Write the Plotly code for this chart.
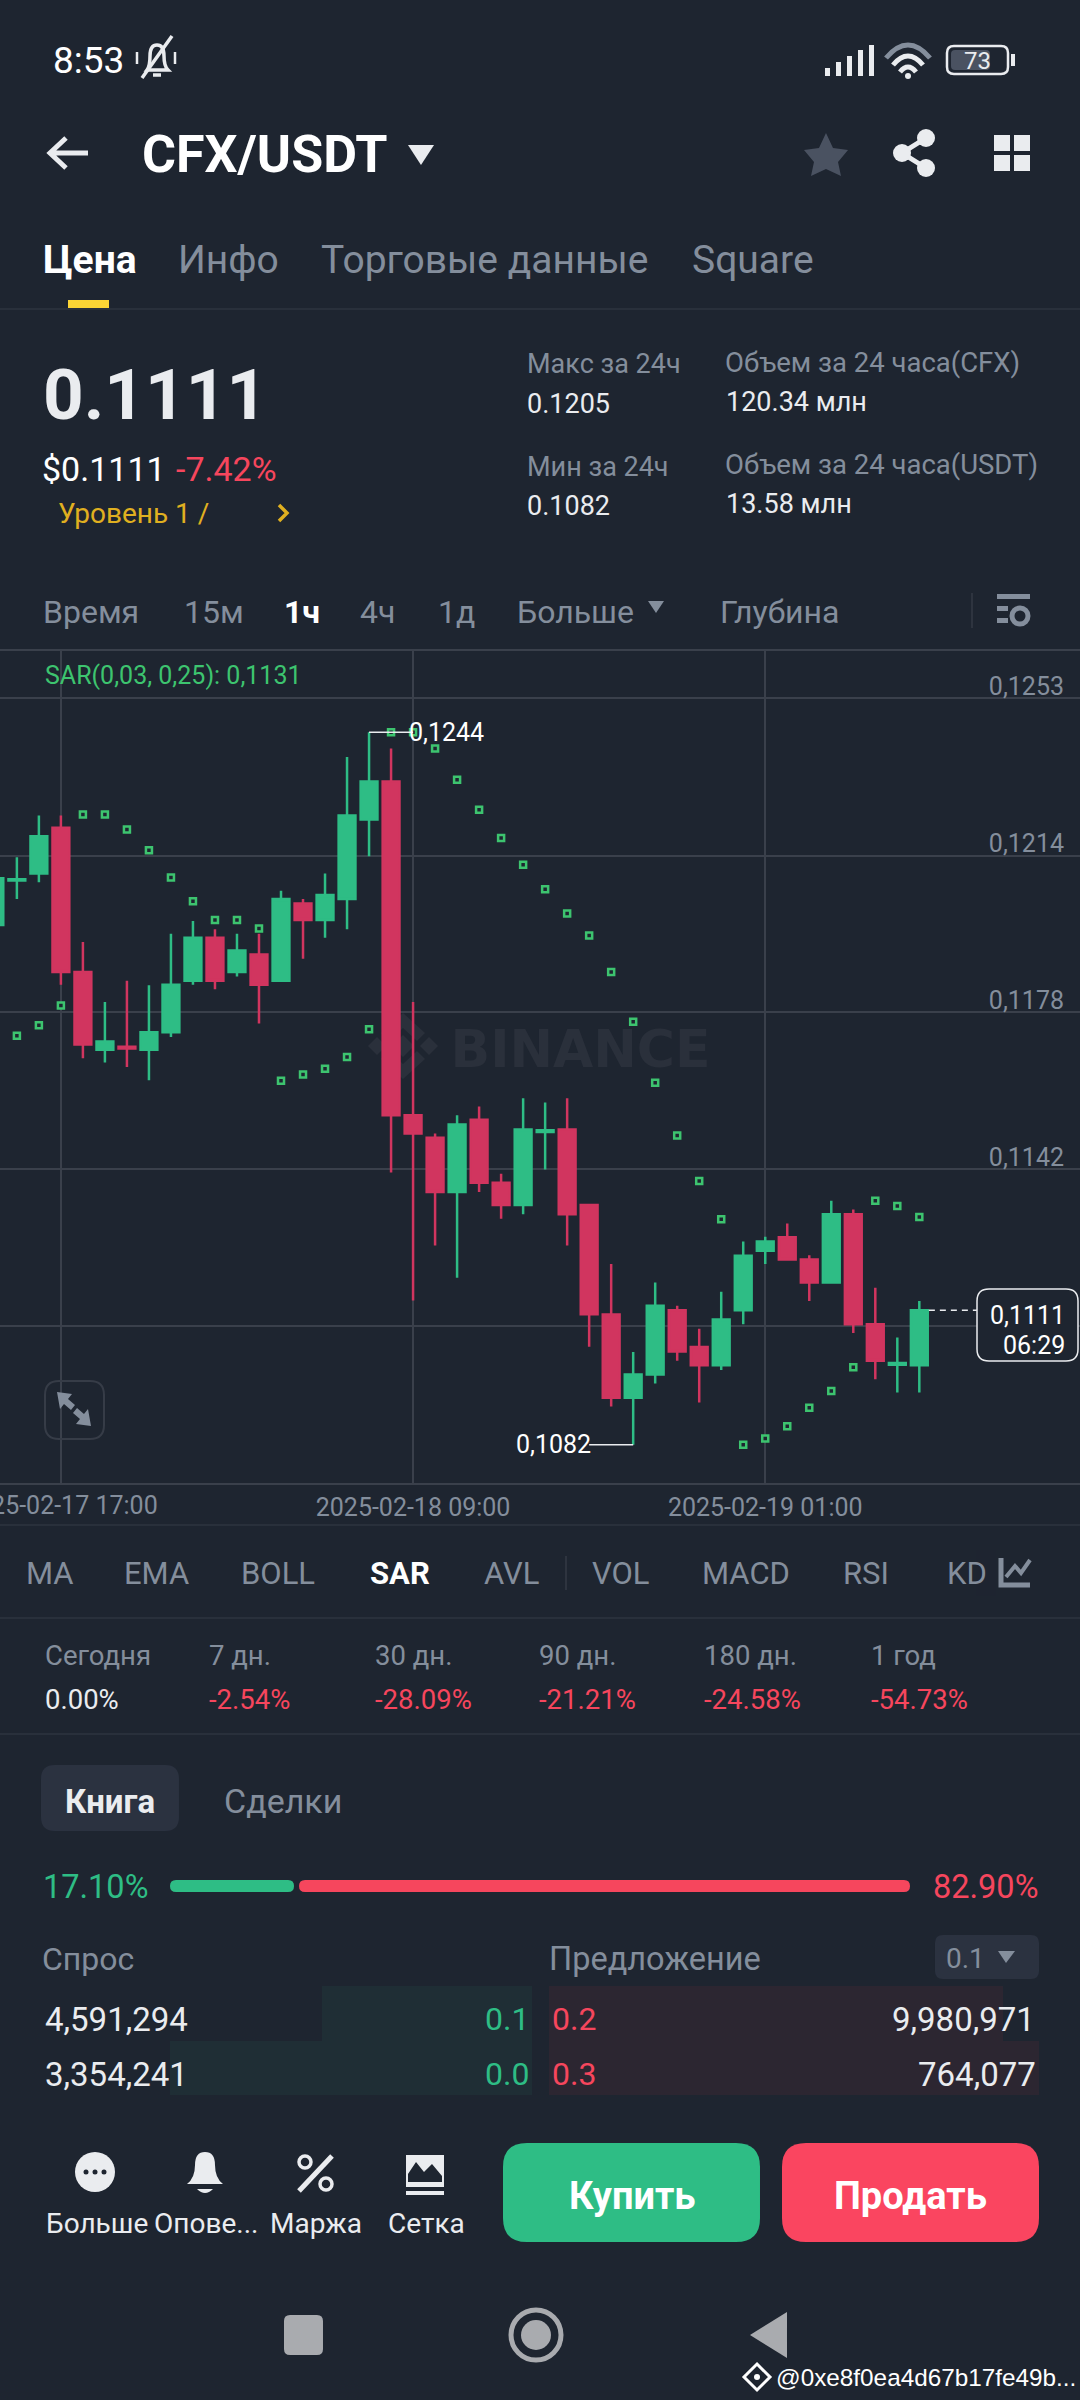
import re
import plotly.graph_objects as go

W, H = 1080, 2400
BG = '#1E2530'
GREY = '#848E9C'
WHITE = '#EAECEF'
GREEN = '#2EBD85'
RED = '#F6465D'
CANDLE_RED = '#D1355F'
SAR_GREEN = '#3DC46F'
GRID = '#3A404B'
DIVIDER = '#2E343F'
WATERMARK = '#2A303B'
FONT = 'Roboto'

# ------------------------------
# chart values
times = ['2025-02-17 14:00', '2025-02-17 15:00', '2025-02-17 16:00', '2025-02-17 17:00', '2025-02-17 18:00',
         '2025-02-17 19:00', '2025-02-17 20:00', '2025-02-17 21:00', '2025-02-17 22:00', '2025-02-17 23:00',
         '2025-02-18 00:00', '2025-02-18 01:00', '2025-02-18 02:00', '2025-02-18 03:00', '2025-02-18 04:00',
         '2025-02-18 05:00', '2025-02-18 06:00', '2025-02-18 07:00', '2025-02-18 08:00', '2025-02-18 09:00',
         '2025-02-18 10:00', '2025-02-18 11:00', '2025-02-18 12:00', '2025-02-18 13:00', '2025-02-18 14:00',
         '2025-02-18 15:00', '2025-02-18 16:00', '2025-02-18 17:00', '2025-02-18 18:00', '2025-02-18 19:00',
         '2025-02-18 20:00', '2025-02-18 21:00', '2025-02-18 22:00', '2025-02-18 23:00', '2025-02-19 00:00',
         '2025-02-19 01:00', '2025-02-19 02:00', '2025-02-19 03:00', '2025-02-19 04:00', '2025-02-19 05:00',
         '2025-02-19 06:00', '2025-02-19 07:00', '2025-02-19 08:00']
opens = [0.12002, 0.12103, 0.12119, 0.12223, 0.11895, 0.11718, 0.11725, 0.11718, 0.11758, 0.11875, 0.11973,
         0.11895, 0.11935, 0.11875, 0.12051, 0.12013, 0.12061, 0.12242, 0.12328, 0.11569, 0.11518, 0.11395,
         0.11559, 0.11416, 0.11365, 0.11531, 0.11537, 0.11365, 0.11116, 0.10927, 0.10980, 0.11126, 0.11042,
         0.11001, 0.11126, 0.11261, 0.11292, 0.11241, 0.11189, 0.11344, 0.11094, 0.11002, 0.11001]
highs = [0.12150, 0.12156, 0.12251, 0.12251, 0.11963, 0.11827, 0.11875, 0.11865, 0.11982, 0.12011, 0.11992,
         0.11982, 0.11982, 0.12080, 0.12061, 0.12119, 0.12384, 0.12440, 0.12403, 0.11827, 0.11528, 0.11569,
         0.11589, 0.11436, 0.11608, 0.11598, 0.11608, 0.11365, 0.11231, 0.11031, 0.11189, 0.11136, 0.11084,
         0.11168, 0.11282, 0.11293, 0.11323, 0.11251, 0.11375, 0.11355, 0.11177, 0.11064, 0.11147]
lows = [0.11970, 0.12061, 0.12099, 0.11866, 0.11699, 0.11689, 0.11679, 0.11649, 0.11747, 0.11866, 0.11856,
        0.11885, 0.11778, 0.11875, 0.11925, 0.11973, 0.11992, 0.12158, 0.11439, 0.11148, 0.11273, 0.11200,
        0.11395, 0.11334, 0.11344, 0.11446, 0.11273, 0.11043, 0.10907, 0.10820, 0.10959, 0.11011, 0.10916,
        0.10990, 0.11094, 0.11231, 0.11241, 0.11147, 0.11189, 0.11074, 0.10969, 0.10939, 0.10939]
closes = [0.12108, 0.12106, 0.12204, 0.11895, 0.11730, 0.11737, 0.11721, 0.11758, 0.11866, 0.11973, 0.11875,
          0.11944, 0.11866, 0.12061, 0.12013, 0.12070, 0.12251, 0.12328, 0.11569, 0.11528, 0.11395, 0.11548,
          0.11416, 0.11365, 0.11537, 0.11535, 0.11344, 0.11117, 0.10927, 0.10980, 0.11136, 0.11032, 0.11001,
          0.11105, 0.11250, 0.11282, 0.11241, 0.11189, 0.11344, 0.11094, 0.11011, 0.11006, 0.11126]
sar = [None, 0.11750, 0.11774, 0.11819, 0.12253, 0.12253, 0.12219, 0.12172, 0.12110, 0.12056, 0.12013,
       0.12013, 0.11994, 0.11648, 0.11662, 0.11675, 0.11702, 0.11765, 0.12440, 0.12440, 0.12403, 0.12332,
       0.12264, 0.12200, 0.12139, 0.12083, 0.12028, 0.11978, 0.11895, 0.11782, 0.11643, 0.11523, 0.11420,
       0.11333, 0.10820, 0.10834, 0.10862, 0.10904, 0.10942, 0.10996, 0.11375, 0.11363, 0.11338]

grid_prices = [0.12517, 0.12159, 0.11803, 0.11446, 0.11089]
price_labels = ['0,1253', '0,1214', '0,1178', '0,1142', '']
date_ticks = ['2025-02-17 17:00', '2025-02-18 09:00', '2025-02-19 01:00']
X_RANGE = ['2025-02-17 14:14', '2025-02-19 15:18']
Y_RANGE = [0.10733, 0.12625]
LAST_PRICE = '0,1111'
buy_pct, sell_pct = 17.10, 82.90

periods = ['Сегодня', '7 дн.', '30 дн.', '90 дн.', '180 дн.', '1 год']
period_changes = ['0.00%', '-2.54%', '-28.09%', '-21.21%', '-24.58%', '-54.73%']
# ------------------------------

shapes = []
annotations = []


def fx(x):
    return x / W


def fy(y):
    return 1 - y / H


def text(x, y, s, size=28, color=WHITE, anchor='left', bold=False, font=FONT):
    if bold:
        s = '<b>' + s + '</b>'
    annotations.append(dict(x=fx(x), y=fy(y), xref='paper', yref='paper', text=s, showarrow=False,
                            xanchor=anchor, yanchor='middle', borderpad=0, borderwidth=0,
                            font=dict(size=size, color=color, family=font)))


def path_str(cmds):
    # absolute M/L/Q/C/Z commands in page pixels -> paper coords
    out = []
    is_x = True
    for tok in re.findall(r'[MLQCZ]|-?[\d.]+', cmds):
        if tok in 'MLQCZ':
            out.append(tok)
            is_x = True
        else:
            out.append(f'{fx(float(tok)):.5f}' if is_x else f'{fy(float(tok)):.5f}')
            is_x = not is_x
    return ' '.join(out)


def path(cmds, fill=None, line=None, width=0, layer='above'):
    shapes.append(dict(type='path', xref='paper', yref='paper', path=path_str(cmds), fillcolor=fill or 'rgba(0,0,0,0)',
                       line=dict(color=line or 'rgba(0,0,0,0)', width=width), layer=layer))


def rect(x0, y0, x1, y1, fill, layer='above'):
    shapes.append(dict(type='rect', xref='paper', yref='paper', x0=fx(x0), x1=fx(x1), y0=fy(y0), y1=fy(y1),
                       fillcolor=fill, line=dict(width=0), layer=layer))


def rrect(x0, y0, x1, y1, r, fill=None, line=None, width=0, layer='above'):
    path(f'M{x0 + r} {y0} L{x1 - r} {y0} Q{x1} {y0} {x1} {y0 + r} L{x1} {y1 - r} Q{x1} {y1} {x1 - r} {y1} '
         f'L{x0 + r} {y1} Q{x0} {y1} {x0} {y1 - r} L{x0} {y0 + r} Q{x0} {y0} {x0 + r} {y0} Z',
         fill, line, width, layer)


def circle(cx, cy, r, fill=None, line=None, width=0):
    shapes.append(dict(type='circle', xref='paper', yref='paper', x0=fx(cx - r), x1=fx(cx + r), y0=fy(cy - r),
                       y1=fy(cy + r), fillcolor=fill or 'rgba(0,0,0,0)',
                       line=dict(color=line or 'rgba(0,0,0,0)', width=width)))


def hline(y, x0=0, x1=W, color=DIVIDER, width=1.5):
    path(f'M{x0} {y} L{x1} {y}', line=color, width=width)


fig = go.Figure()

fig.add_trace(go.Candlestick(
    x=times, open=opens, high=highs, low=lows, close=closes,
    increasing=dict(line=dict(color=GREEN, width=2.5), fillcolor=GREEN),
    decreasing=dict(line=dict(color=CANDLE_RED, width=2.5), fillcolor=CANDLE_RED),
    whiskerwidth=0, hoverinfo='skip', showlegend=False))

fig.add_trace(go.Scatter(
    x=times, y=sar, mode='markers', hoverinfo='skip', showlegend=False,
    marker=dict(symbol='square', size=6, color=BG, line=dict(color=SAR_GREEN, width=2.5))))

# status bar
text(53, 61, '8:53', 37, '#FFFFFF')
path('M147 70 Q150 66 150 56 Q150 45 157 45 Q164 45 164 56 Q164 66 168 70 Z', line=WHITE, width=3.5)
path('M153 75 L161 75', line=WHITE, width=3.5)
path('M142 78 L172 36', line=WHITE, width=3.5)
path('M137 52 L137 64', line=WHITE, width=2.5)
path('M175 52 L175 64', line=WHITE, width=2.5)
for bx, top in zip([825, 836, 847, 858, 869], [68, 62, 56, 50, 45]):
    rect(bx, top, bx + 5, 76, WHITE)
path('M886 58 Q908 32 930 58', line=GREY, width=5)
path('M893 65 Q908 47 923 65', line=WHITE, width=5)
path('M900 72 Q908 62 916 72', line=WHITE, width=5)
circle(908, 76, 3, fill=WHITE)
rrect(947, 46, 1008, 74, 7, line=WHITE, width=2.5)
rrect(951, 50, 990, 70, 4, fill='#4A5261')
rect(1011, 54, 1015, 66, WHITE)
text(977, 61, '73', 24, WHITE, 'center')

# header
path('M88 153 L52 153 M66 138 L50 153 L66 168', line=WHITE, width=5)
text(142, 155, 'CFX/USDT', 52, '#FFFFFF', bold=True)
path('M408 145 L434 145 L421 165 Z', fill=WHITE)
path('M826 133 L833 148 L848 150 L838 162 L841 176 L826 169 L811 176 L814 162 L804 150 L819 148 Z', fill='#4A5261')
circle(902, 153, 9, fill=WHITE)
circle(926, 138, 9, fill=WHITE)
circle(926, 168, 9, fill=WHITE)
path('M926 138 L902 153 L926 168', line=WHITE, width=5)
for bx in [994, 1014]:
    for by in [135, 155]:
        rect(bx, by, bx + 16, by + 16, WHITE)

# tabs
text(43, 260, 'Цена', 39, '#FFFFFF', bold=True)
text(178, 260, 'Инфо', 39, GREY)
text(321, 260, 'Торговые данные', 39, GREY)
text(692, 260, 'Square', 39, GREY)
rect(68, 300, 109, 308, '#FCD535')
hline(309)

# price block
text(43, 394, '0.1111', 71, WHITE, bold=True)
text(42, 469, '$0.1111', 34, '#FFFFFF')
text(176, 469, '-7.42%', 34, RED)
text(58, 513, 'Уровень 1 /', 28, '#E0B020')
path('M279 505 L287 513 L279 521', line='#E0B020', width=3.5)
text(527, 364, 'Макс за 24ч', 27, GREY)
text(527, 404, '0.1205', 27, WHITE)
text(527, 467, 'Мин за 24ч', 27, GREY)
text(527, 506, '0.1082', 27, WHITE)
text(725, 362, 'Объем за 24 часа(CFX)', 27.5, GREY)
text(726, 402, '120.34 млн', 27, WHITE)
text(725, 464, 'Объем за 24 часа(USDT)', 27.5, GREY)
text(726, 504, '13.58 млн', 27, WHITE)

# interval row
for x, s in zip([43, 184, 360, 438, 517, 720], ['Время', '15м', '4ч', '1д', 'Больше', 'Глубина']):
    text(x, 612, s, 32, GREY)
text(284, 612, '1ч', 32, '#FFFFFF', bold=True)
path('M648 601 L664 601 L656 613 Z', fill=GREY)
path('M972 593 L972 628', line=DIVIDER, width=2)
rect(997, 594, 1030, 599, GREY)
rect(997, 606, 1008, 611, GREY)
rect(997, 618, 1008, 623, GREY)
circle(1020, 616, 8, line=GREY, width=5)

# chart overlays
text(45, 675, 'SAR(0,03, 0,25): 0,1131', 25, SAR_GREEN)

# watermark, under the candles
path('M403 1013 L425 1033 L417 1041 L403 1028 L389 1041 L381 1033 Z', fill=WATERMARK, layer='below')
path('M403 1079 L425 1059 L417 1051 L403 1064 L389 1051 L381 1059 Z', fill=WATERMARK, layer='below')
path('M403 1035 L414 1046 L403 1057 L392 1046 Z', fill=WATERMARK, layer='below')
path('M377 1037 L386 1046 L377 1055 L368 1046 Z', fill=WATERMARK, layer='below')
path('M429 1037 L438 1046 L429 1055 L420 1046 Z', fill=WATERMARK, layer='below')
shapes.append(dict(type='rect', xref='paper', yref='paper', x0=fx(451), x1=fx(710), y0=fy(1020), y1=fy(1070),
                   line=dict(width=0), layer='below',
                   label=dict(text='<b>BINANCE</b>', textposition='middle center',
                              font=dict(size=52, color=WATERMARK, family='DejaVu Sans'))))

# high / low markers, taken from the series
i_high = highs.index(max(highs))
i_low = lows.index(min(lows))
fig.add_shape(type='line', x0=times[i_high], x1=times[i_high + 2], y0=highs[i_high], y1=highs[i_high],
              line=dict(color=WHITE, width=1.5))
fig.add_shape(type='line', x0=times[i_low], x1=times[i_low - 2], y0=lows[i_low], y1=lows[i_low],
              line=dict(color=WHITE, width=1.5))
fig.add_annotation(x=times[i_high + 2], y=highs[i_high], text=f'{highs[i_high]:.4f}'.replace('.', ','), showarrow=False,
                   xanchor='left', xshift=-6, font=dict(size=25, color='#FFFFFF', family=FONT))
fig.add_annotation(x=times[i_low - 2], y=lows[i_low], text=f'{lows[i_low]:.4f}'.replace('.', ','), showarrow=False,
                   xanchor='right', xshift=4, font=dict(size=25, color='#FFFFFF', family=FONT))

# first date label runs off the left edge, the axis would drop it
fig.add_annotation(x=date_ticks[0], y=fy(1505), yref='paper', text=date_ticks[0], showarrow=False, xanchor='center',
                   yanchor='middle', font=dict(size=25, color=GREY, family=FONT))

# last price tag
fig.add_shape(type='line', x0='2025-02-19 08:26', x1='2025-02-19 10:37', y0=closes[-1], y1=closes[-1],
              line=dict(color=WHITE, width=1.5, dash='6px,5px'))
rrect(977, 1289, 1078, 1361, 12, fill=BG, line=WHITE, width=1.5)
text(1065, 1315, LAST_PRICE, 25, '#FFFFFF', 'right')
text(1065, 1345, '06:29', 25, '#FFFFFF', 'right')

# expand icon
rrect(45, 1381, 104, 1439, 14, line='#363C47', width=2)
path('M57 1392 L72 1394 L68 1399 L75 1405 L71 1410 L64 1404 L60 1409 Z', fill=GREY)
path('M91 1426 L76 1424 L80 1419 L73 1413 L77 1408 L84 1414 L88 1409 Z', fill=GREY)

# indicator row
hline(1525)
for x, s in zip([26, 124, 241, 484, 592, 702, 843, 947], ['MA', 'EMA', 'BOLL', 'AVL', 'VOL', 'MACD', 'RSI', 'KD']):
    text(x, 1573, s, 31, GREY)
text(370, 1573, 'SAR', 31, '#FFFFFF', bold=True)
rect(976, 1550, 996, 1596, 'rgba(30,37,48,0.6)')
path('M566 1556 L566 1590', line=DIVIDER, width=2)
path('M1001 1558 L1001 1585 L1030 1585', line=GREY, width=5)
path('M1006 1577 L1015 1566 L1021 1573 L1030 1560', line=GREY, width=4)
hline(1618)

# period changes
for x, p, c in zip([45, 209, 375, 539, 704, 871], periods, period_changes):
    text(x, 1655, p, 27.5, GREY)
    text(x, 1699, c, 27.5, WHITE if c == '0.00%' else RED)
hline(1734)

# book
rrect(41, 1765, 179, 1831, 14, fill='#2B3240')
text(110, 1801, 'Книга', 33, WHITE, 'center', bold=True)
text(224, 1801, 'Сделки', 34, GREY)

BAR_X0, BAR_X1, BAR_GAP = 170, 910, 2.5
split = BAR_X0 + (BAR_X1 - BAR_X0) * buy_pct / (buy_pct + sell_pct)
text(43, 1887, f'{buy_pct:.2f}%', 32.5, GREEN)
rrect(BAR_X0, 1880, split - BAR_GAP, 1892, 6, fill=GREEN)
rrect(split + BAR_GAP, 1880, BAR_X1, 1892, 6, fill=RED)
text(1038, 1887, f'{sell_pct:.2f}%', 32.5, RED, 'right')

text(42, 1959, 'Спрос', 32, GREY)
text(549, 1959, 'Предложение', 32.5, GREY)
rrect(935, 1935, 1039, 1979, 8, fill='#2B3240')
text(946, 1958, '0.1', 28, GREY)
path('M998 1951 L1015 1951 L1006 1963 Z', fill=GREY)

rect(322, 1986, 532, 2041, '#1F2E35')
rect(170, 2041, 532, 2095, '#1F2E35')
rect(549, 1986, 1003, 2041, '#2C2631')
rect(549, 2041, 1039, 2095, '#2C2631')
text(45, 2019, '4,591,294', 33, WHITE)
text(45, 2074, '3,354,241', 33, WHITE)
text(529, 2019, '0.1', 32, GREEN, 'right')
text(529, 2074, '0.0', 32, GREEN, 'right')
text(552, 2019, '0.2', 32, RED)
text(552, 2074, '0.3', 32, RED)
text(1035, 2019, '9,980,971', 33, WHITE, 'right')
text(1036, 2074, '764,077', 33, WHITE, 'right')

# bottom actions
circle(95, 2172, 20, fill=WHITE)
for dx in [-9, 0, 9]:
    circle(95 + dx, 2172, 2.5, fill=BG)
path('M187 2184 Q195 2178 195 2165 Q195 2152 205 2152 Q215 2152 215 2165 Q215 2178 223 2184 Z', fill=WHITE)
path('M197 2189 L213 2189 Q205 2197 197 2189 Z', fill=WHITE)
path('M299 2191 L332 2156', line=WHITE, width=5)
circle(305, 2162, 6, line=WHITE, width=3.5)
circle(326, 2184, 6, line=WHITE, width=3.5)
rect(406, 2191, 444, 2195, WHITE)
path('M406 2155 L444 2155 L444 2187 L406 2187 Z', fill=WHITE)
path('M408 2174 L416 2162 L424 2172 L432 2164 L442 2176 L442 2182 L408 2182 Z', fill=BG)
text(97, 2223, 'Больше', 28, WHITE, 'center')
text(206, 2223, 'Опове...', 28, WHITE, 'center')
text(316, 2223, 'Маржа', 28, WHITE, 'center')
text(426, 2223, 'Сетка', 28, WHITE, 'center')
rrect(503, 2143, 760, 2242, 24, fill=GREEN)
rrect(782, 2143, 1039, 2242, 24, fill='#FA4560')
text(632, 2196, 'Купить', 38, '#FFFFFF', 'center', bold=True)
text(910, 2196, 'Продать', 38, '#FFFFFF', 'center', bold=True)

# nav bar
rrect(284, 2315, 323, 2355, 6, fill='#A9ABAF')
circle(536, 2335, 25, line='#A9ABAF', width=5)
circle(536, 2335, 15, fill='#A9ABAF')
path('M787 2312 L787 2358 L750 2335 Z', fill='#A9ABAF')

# share tag
path('M757 2364 L770 2377 L757 2390 L744 2377 Z', line='#FFFFFF', width=3)
circle(757, 2377, 3, fill='#FFFFFF')
text(776, 2377, '@0xe8f0ea4d67b17fe49b...', 24.3, '#FFFFFF', font='Liberation Sans')

fig.update_layout(
    width=W, height=H,
    margin=dict(l=0, r=0, t=0, b=0),
    paper_bgcolor=BG, plot_bgcolor=BG,
    boxgap=0.236, boxgroupgap=0,
    showlegend=False,
    font=dict(family=FONT),
    xaxis=dict(type='date', domain=[0, 1], range=X_RANGE, rangeslider=dict(visible=False),
               tickmode='array', tickvals=date_ticks, ticktext=[''] + date_ticks[1:], ticklabelstandoff=1,
               tickfont=dict(size=25, color=GREY), ticks='', showgrid=True, gridcolor=GRID, gridwidth=1.5,
               showline=True, mirror=True, linecolor=GRID, linewidth=1.5, zeroline=False, fixedrange=True),
    yaxis=dict(domain=[1 - 1483 / H, 1 - 651 / H], range=Y_RANGE, side='right', tickmode='array',
               tickvals=grid_prices, ticktext=price_labels, ticklabelposition='inside top', ticklabelstandoff=13,
               ticklabelshift=5, tickfont=dict(size=25, color=GREY), ticks='', showgrid=True, gridcolor=GRID,
               gridwidth=1.5, zeroline=False, showline=False, fixedrange=True),
)
for s in shapes:
    fig.add_shape(**s)
for a in annotations:
    fig.add_annotation(**a)

fig.write_html("out.html", config=dict(displayModeBar=False),
               post_script="document.body.style.margin='0';document.body.style.background='" + BG + "';")
